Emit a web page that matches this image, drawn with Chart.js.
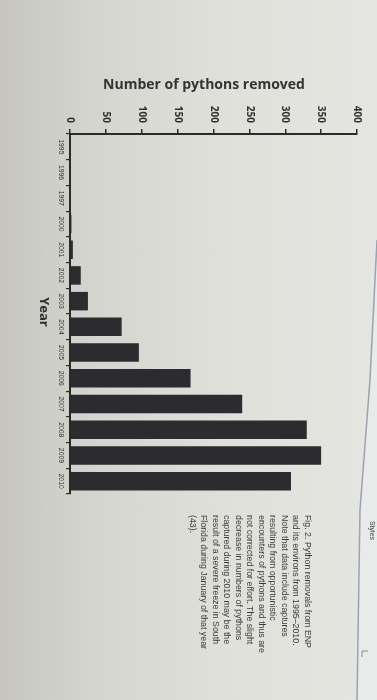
<!DOCTYPE html>
<html>
<head>
<meta charset="utf-8">
<script src="https://cdn.jsdelivr.net/npm/chart.js@4"></script>
<style>
  html, body { margin: 0; padding: 0; }
  body {
    width: 377px; height: 700px; overflow: hidden; position: relative;
    background: linear-gradient(90deg, #c6c5bf 0%, #d5d5cf 25%, #dfe0da 60%, #e5e6e1 100%);
  }
  #wrap { position: absolute; left: 0; top: 0; width: 377px; height: 700px; }
  .rot {
    position: absolute; transform-origin: 0 0; transform: rotate(90deg);
    white-space: nowrap; font-family: "Liberation Sans", Arial, sans-serif;
  }
  #caption { left: 313px; top: 515px; font-size: 8.8px; line-height: 11.5px; color: #3a3a3a; }
  #styles { left: 377px; top: 521px; font-size: 7px; line-height: 9px; color: #444; }
  svg { position: absolute; left: 0; top: 0; }
</style>
</head>
<body>
<div id="wrap"><canvas id="grafico"></canvas></div>
<svg width="377" height="700">
  <polygon points="377,240 370,380 360,510 357,700 377,700" fill="#e9ebea" />
  <polyline points="377,240 370,380 360,510 357,700" fill="none" stroke="#9ca2b0" stroke-width="1.5" />
  <line x1="362" y1="651" x2="368" y2="651" stroke="#888" stroke-width="1" />
  <line x1="362" y1="651" x2="362" y2="657" stroke="#888" stroke-width="1" />
</svg>
<div id="styles" class="rot">Styles</div>
<div id="caption" class="rot">
  Fig. 2. Python removals from ENP<br>
  and its environs from 1995–2010.<br>
  Note that data include captures<br>
  resulting from opportunistic<br>
  encounters of pythons and thus are<br>
  not corrected for effort. The slight<br>
  decrease in numbers of pythons<br>
  captured during 2010 may be the<br>
  result of a severe freeze in South<br>
  Florida during January of that year<br>
  (43).
</div>
<script>
let anos = ['1995', '1996', '1997', '2000', '2001', '2002', '2003', '2004', '2005', '2006', '2007', '2008', '2009', '2010']
let removidos = [1, 1, 1, 2, 4, 15, 25, 72, 96, 168, 240, 330, 350, 308]
let marcas = [0, 50, 100, 150, 200, 250, 300, 350, 400]

let tituloValor = 'Number of pythons removed'
let tituloAno = 'Year'

// texto girado 90 graus (a foto esta de lado)
function textoGirado(ctx, texto, x, y, align) {
    ctx.save()
    ctx.translate(x, y)
    ctx.rotate(Math.PI / 2)
    ctx.textAlign = align
    ctx.textBaseline = 'middle'
    ctx.fillText(texto, 0, 0)
    ctx.restore()
}

let rotulos = {
    id: 'rotulos',
    afterDraw(chart) {
        let ctx = chart.ctx
        let x = chart.scales.x
        let y = chart.scales.y
        let area = chart.chartArea
        ctx.save()
        ctx.fillStyle = '#2e2e2e'

        ctx.font = 'bold 10px "Open Sans"'
        x.ticks.forEach((t, i) => {
            textoGirado(ctx, String(t.value), x.getPixelForTick(i), area.top - 11, 'right')
        })

        ctx.font = '6.8px "Liberation Sans"'
        y.ticks.forEach((t, i) => {
            textoGirado(ctx, anos[i], area.left - 9, y.getPixelForTick(i), 'center')
        })

        ctx.font = 'bold 13px "Open Sans"'
        textoGirado(ctx, tituloAno, 44, 312, 'center')

        ctx.font = 'bold 14px "Open Sans"'
        ctx.fillStyle = '#333'
        ctx.textAlign = 'center'
        ctx.textBaseline = 'middle'
        ctx.fillText(tituloValor, 204, 85)
        ctx.restore()
    }
}

let ctx = document.getElementById('grafico').getContext('2d')
new Chart(ctx, {
    type: 'bar',
    data: {
        labels: anos,
        datasets: [{
            label: tituloValor,
            data: removidos,
            backgroundColor: '#2c2b2f',
            barPercentage: 0.72,
            categoryPercentage: 1
        }]
    },
    options: {
        indexAxis: 'y',
        responsive: true,
        maintainAspectRatio: false,
        animation: false,
        layout: {
            padding: { top: 129, left: 66, right: 20, bottom: 206 }
        },
        plugins: {
            legend: { display: false },
            tooltip: { enabled: false }
        },
        scales: {
            x: {
                position: 'top',
                min: marcas[0],
                max: marcas[marcas.length - 1],
                afterBuildTicks: (escala) => {
                    escala.ticks = marcas.map(v => ({ value: v }))
                },
                ticks: { display: false },
                grid: { drawOnChartArea: false, drawTicks: true, tickLength: 5, color: '#2a2a2a', lineWidth: 1.5 },
                border: { display: true, color: '#2a2a2a', width: 2 }
            },
            y: {
                offset: true,
                ticks: { display: false },
                grid: { offset: true, drawOnChartArea: false, drawTicks: true, tickLength: 4, color: '#2a2a2a', lineWidth: 1.2 },
                border: { display: true, color: '#2a2a2a', width: 2 }
            }
        }
    },
    plugins: [rotulos]
})
</script>
</body>
</html>
